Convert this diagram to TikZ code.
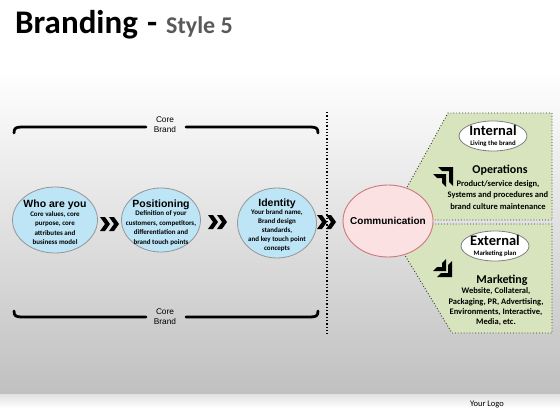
\documentclass[tikz,border=0pt]{standalone}
\usepackage{fontspec}
\setmainfont{Carlito}
\newfontfamily\arialfont{Liberation Sans}
\usetikzlibrary{shapes.geometric}
\definecolor{bandgray}{RGB}{192,192,192}
\definecolor{ballblue}{RGB}{189,229,246}
\definecolor{commpink}{RGB}{252,225,226}
\definecolor{commedge}{RGB}{205,120,125}
\definecolor{panelgreen}{RGB}{215,228,189}
\definecolor{titlegray}{RGB}{89,89,89}

\begin{document}
\begin{tikzpicture}[x=1pt,y=1pt,yscale=-1,
  ball/.style={ellipse,draw={rgb,255:red,150;green,150;blue,150},line width=0.8pt,fill=ballblue,inner sep=0pt},
  balltitle/.style={font=\arialfont\bfseries\fontsize{10.5}{10}\selectfont},
  balltext/.style={align=center,inner sep=0pt,font=\bfseries\fontsize{7}{9.4}\selectfont},
  label/.style={ellipse,draw={rgb,255:red,128;green,128;blue,128},line width=0.8pt,fill=white,minimum width=68pt,minimum height=30pt,inner sep=0pt},
  panel/.style={fill=panelgreen,draw=black!80,dotted,line width=0.9pt},
  bracket/.style={line width=2.8pt,line cap=round},
  corebrand/.style={align=center,inner sep=0pt,font=\arialfont\fontsize{8.3}{10}\selectfont}]
\useasboundingbox (0,0) rectangle (560,420);

%Shape: Background
\fill[white] (0,0) rectangle (560,420);
\shade[top color=white,middle color={rgb,255:red,236;green,236;blue,236},bottom color=bandgray] (0,70) rectangle (560,394);
\shade[top color=black!12,bottom color=white] (0,394) rectangle (560,408);

% Text Node
\node[anchor=base west,inner sep=0pt,font=\bfseries\fontsize{33}{33}\selectfont] (title) at (15,34) {Branding};
% Text Node
\node[anchor=base west,inner sep=0pt,font=\bfseries\fontsize{33}{33}\selectfont] (dash) at (147,34) {-};
% Text Node
\node[anchor=base west,inner sep=0pt,text=titlegray,font=\bfseries\fontsize{24}{24}\selectfont] (subtitle) at (166,34) {Style 5};

%Shape: Brackets
\draw[bracket] (14,133) .. controls (14,128) and (16,127) .. (22,127) -- (146,127);
\draw[bracket] (186,127) -- (310,127) .. controls (316,127) and (318,128) .. (318,133);
\draw[bracket] (14,311) .. controls (14,316) and (16,317) .. (22,317) -- (146,317);
\draw[bracket] (186,317) -- (310,317) .. controls (316,317) and (318,316) .. (318,311);
% Text Node
\node[corebrand] (coretop) at (165,125) {Core\\Brand};
% Text Node
\node[corebrand] (corebottom) at (165,317) {Core\\Brand};

%Shape: Dotted divider
\draw[dotted,line width=1.3pt] (327,112) -- (327,336);

%Shape: Panels
\draw[panel] (389,220) -- (448,113) -- (552,113) -- (552,220) -- cycle;
\draw[panel] (386,224) -- (552,224) -- (552,333) -- (452,333) -- cycle;

%Shape: Ellipses
\node[ball,minimum width=85pt,minimum height=66pt] (who) at (55,220) {};
\node[ball,minimum width=79pt,minimum height=64pt] (positioning) at (161,220) {};
\node[ball,minimum width=79pt,minimum height=70pt] (identity) at (277,223) {};
\node[ellipse,draw=commedge,line width=0.9pt,fill=commpink,minimum width=90pt,minimum height=72pt] (comm) at (388,221) {};

%Shape: Chevrons
\foreach \cx/\cy in {110/224,218/222,327/222}{
  \fill (\cx-10,\cy-7) -- (\cx-5,\cy-7) -- (\cx,\cy) -- (\cx-5,\cy+7) -- (\cx-10,\cy+7) -- (\cx-5,\cy) -- cycle;
  \fill (\cx-1,\cy-7) -- (\cx+4,\cy-7) -- (\cx+9,\cy) -- (\cx+4,\cy+7) -- (\cx-1,\cy+7) -- (\cx+4,\cy) -- cycle;
}

% Text Node
\node[balltitle] (whotitle) at (55,205) {Who are you};
% Text Node
\node[balltext] (whotext) at (55,228) {Core values, core\\purpose, core\\attributes and\\business model};
% Text Node
\node[balltitle] (postitle) at (161,205) {Positioning};
% Text Node
\node[balltext] (postext) at (161,228) {Definition of your\\customers, competitors,\\differentiation and\\brand touch points};
% Text Node
\node[balltitle] (idtitle) at (277,204) {Identity};
% Text Node
\node[balltext,font=\bfseries\fontsize{7}{9}\selectfont] (idtext) at (277,231) {Your brand name,\\Brand design\\standards,\\and key touch point\\concepts};
% Text Node
\node[font=\arialfont\bfseries\fontsize{10}{10}\selectfont,inner sep=0pt] (commtext) at (388,221) {Communication};

%Shape: Internal / External
\node[label] (internal) at (493,136) {};
% Text Node
\node[inner sep=0pt,font=\bfseries\fontsize{14.5}{14}\selectfont] (inttitle) at (493,130) {Internal};
% Text Node
\node[inner sep=0pt,font=\bfseries\fontsize{6.8}{7}\selectfont] (inttext) at (493,143.5) {Living the brand};
\node[label] (external) at (495,246) {};
% Text Node
\node[inner sep=0pt,font=\bfseries\fontsize{14.5}{14}\selectfont] (exttitle) at (495,240) {External};
% Text Node
\node[inner sep=0pt,font=\bfseries\fontsize{6.8}{7}\selectfont] (exttext) at (495,253.5) {Marketing plan};

%Shape: Corner icons
\fill (438,167) -- (453,167) -- (453,186) -- (449,182) -- (449,171) -- (442,171) -- cycle;
\fill (433,174) -- (446,174) -- (446,187) -- (442,183) -- (442,178) -- (437,178) -- cycle;
\fill (446,259) -- (446,271) -- (433,271) -- (437,267) -- (442,267) -- (442,263) -- cycle;
\fill (452,261) -- (452,277) -- (437,277) -- (441,273) -- (448,273) -- (448,265) -- cycle;

% Text Node
\node[inner sep=0pt,font=\bfseries\fontsize{12}{12}\selectfont] (ops) at (500,170) {Operations};
% Text Node
\node[align=center,inner sep=0pt,font=\bfseries\fontsize{8.5}{11.5}\selectfont] (opstext) at (498,195) {Product/service design,\\Systems and procedures and\\brand culture maintenance};
% Text Node
\node[inner sep=0pt,font=\bfseries\fontsize{12}{12}\selectfont] (mkt) at (502,280) {Marketing};
% Text Node
\node[align=center,inner sep=0pt,font=\bfseries\fontsize{8.5}{10.3}\selectfont] (mkttext) at (496,307) {Website, Collateral,\\Packaging, PR, Advertising,\\Environments, Interactive,\\Media, etc.};

% Text Node
\node[inner sep=0pt,font=\fontsize{8.5}{9}\selectfont] (logo) at (487,405) {Your Logo};
\end{tikzpicture}
\end{document}
